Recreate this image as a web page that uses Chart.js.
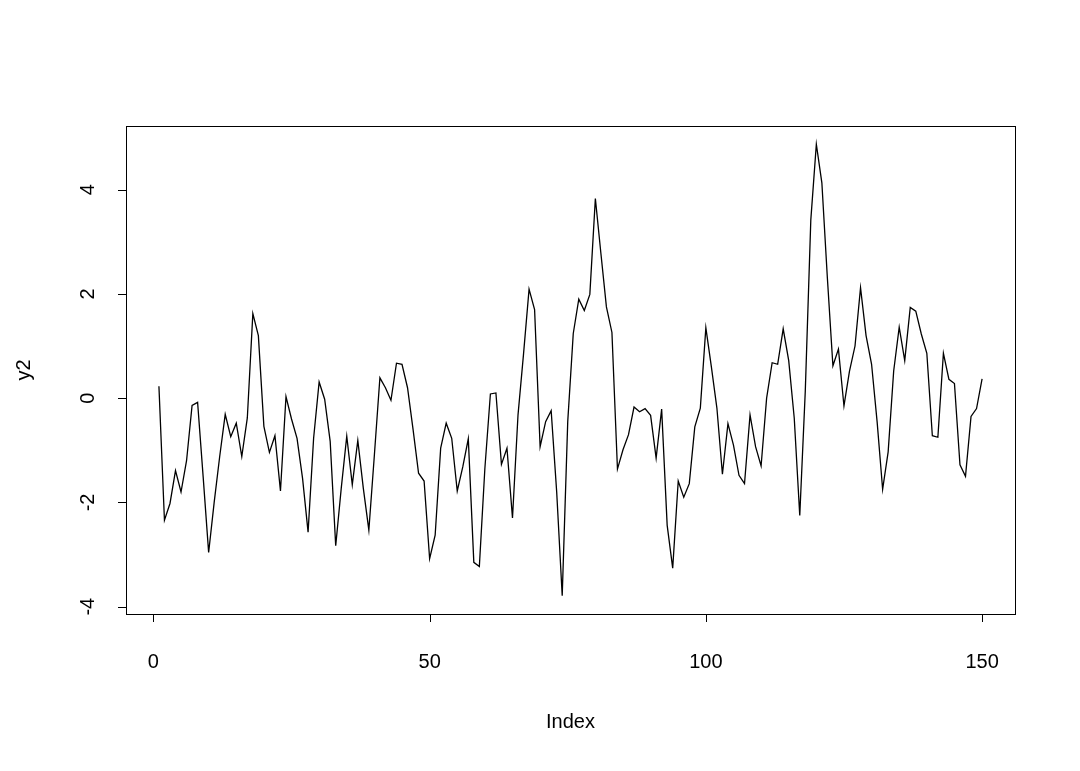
<!DOCTYPE html>
<html><head><meta charset="utf-8">
<script src="https://cdn.jsdelivr.net/npm/chart.js@4"></script>
<style>html,body{margin:0;padding:0;background:#fff}#w{width:1080px;height:771px}</style>
</head><body><div id="w"><canvas id="c"></canvas></div>
<script>
const y2 = [0.23,-2.34,-2.02,-1.39,-1.80,-1.20,-0.14,-0.08,-1.5,-2.96,
-2.0,-1.12,-0.31,-0.74,-0.48,-1.12,-0.38,1.62,1.2,-0.54,
-1.04,-0.72,-1.78,0.03,-0.4,-0.77,-1.54,-2.57,-0.77,0.31,
-0.02,-0.83,-2.83,-1.73,-0.73,-1.66,-0.81,-1.73,-2.53,-1.09,
0.39,0.2,-0.04,0.67,0.65,0.2,-0.6,-1.44,-1.59,-3.08,
-2.63,-0.96,-0.48,-0.77,-1.78,-1.32,-0.78,-3.15,-3.23,-1.35,
0.08,0.1,-1.27,-0.96,-2.30,-0.32,0.85,2.09,1.70,-0.93,
-0.45,-0.24,-1.8,-3.79,-0.45,1.24,1.9,1.68,1.99,3.83,
2.78,1.75,1.26,-1.36,-0.99,-0.70,-0.17,-0.26,-0.2,-0.33,
-1.15,-0.21,-2.44,-3.26,-1.59,-1.9,-1.64,-0.55,-0.19,1.35,
0.6,-0.19,-1.46,-0.49,-0.9,-1.48,-1.64,-0.32,-0.93,-1.3,
0.0,0.68,0.65,1.33,0.72,-0.38,-2.25,0.14,3.42,4.87,
4.13,2.30,0.62,0.94,-0.15,0.52,1.0,2.12,1.2,0.65,
-0.45,-1.75,-1.03,0.52,1.36,0.72,1.74,1.67,1.23,0.86,
-0.72,-0.75,0.86,0.36,0.28,-1.28,-1.5,-0.35,-0.2,0.37];
const index = y2.map((v,i)=>i+1);
const xTicks = [0,50,100,150];
const yTicks = [-4,-2,0,2,4];
const xTitle = "Index", yTitle = "y2";
const FONT = '20px "Liberation Sans", Arial, sans-serif';

const axesPlugin = {
  id:'rAxes',
  afterDraw(chart){
    const ctx = chart.ctx, a = chart.chartArea, xs = chart.scales.x, ys = chart.scales.y;
    ctx.save();
    ctx.strokeStyle='#000'; ctx.lineWidth=1; ctx.fillStyle='#000';
    ctx.strokeRect(Math.round(a.left)+0.5, Math.round(a.top)+0.5, Math.round(a.right-a.left), Math.round(a.bottom-a.top));
    ctx.font = FONT;
    // x axis
    ctx.beginPath();
    const x0 = xs.getPixelForValue(xTicks[0]), x1 = xs.getPixelForValue(xTicks[xTicks.length-1]);
    ctx.moveTo(x0, a.bottom+0.5); ctx.lineTo(x1, a.bottom+0.5);
    xTicks.forEach(t=>{const p=Math.round(xs.getPixelForValue(t))+0.5; ctx.moveTo(p,a.bottom); ctx.lineTo(p,a.bottom+8);});
    // y axis
    const y0 = ys.getPixelForValue(yTicks[0]), y1 = ys.getPixelForValue(yTicks[yTicks.length-1]);
    ctx.moveTo(a.left+0.5, y0); ctx.lineTo(a.left+0.5, y1);
    yTicks.forEach(t=>{const p=Math.round(ys.getPixelForValue(t))+0.5; ctx.moveTo(a.left,p); ctx.lineTo(a.left-8,p);});
    ctx.stroke();
    ctx.textAlign='center'; ctx.textBaseline='middle';
    xTicks.forEach(t=>ctx.fillText(String(t), xs.getPixelForValue(t), 662));
    ctx.fillText(xTitle, (a.left+a.right)/2, 722);
    yTicks.forEach(t=>{ctx.save(); ctx.translate(88, ys.getPixelForValue(t)); ctx.rotate(-Math.PI/2); ctx.fillText(String(t),0,0); ctx.restore();});
    ctx.save(); ctx.translate(24,(a.top+a.bottom)/2); ctx.rotate(-Math.PI/2); ctx.fillText(yTitle,0,0); ctx.restore();
    ctx.restore();
  }
};

new Chart(document.getElementById('c'), {
  type:'line',
  data:{labels:index, datasets:[{data:index.map((x,i)=>({x:x,y:y2[i]})), borderColor:'#000', borderWidth:1.3, pointRadius:0, tension:0, fill:false}]},
  options:{
    responsive:true, maintainAspectRatio:false, animation:false,
    devicePixelRatio:1,
    layout:{padding:{top:126,right:65,left:0,bottom:0}},
    plugins:{legend:{display:false}, tooltip:{enabled:false}},
    scales:{
      x:{type:'linear', min:-4.96, max:155.96, grid:{display:false}, border:{display:false}, ticks:{display:false},
         afterFit(s){s.height=157;}},
      y:{min:-4.14, max:5.22, grid:{display:false}, border:{display:false}, ticks:{display:false},
         afterFit(s){s.width=126;}}
    }
  },
  plugins:[axesPlugin]
});
</script></body></html>
